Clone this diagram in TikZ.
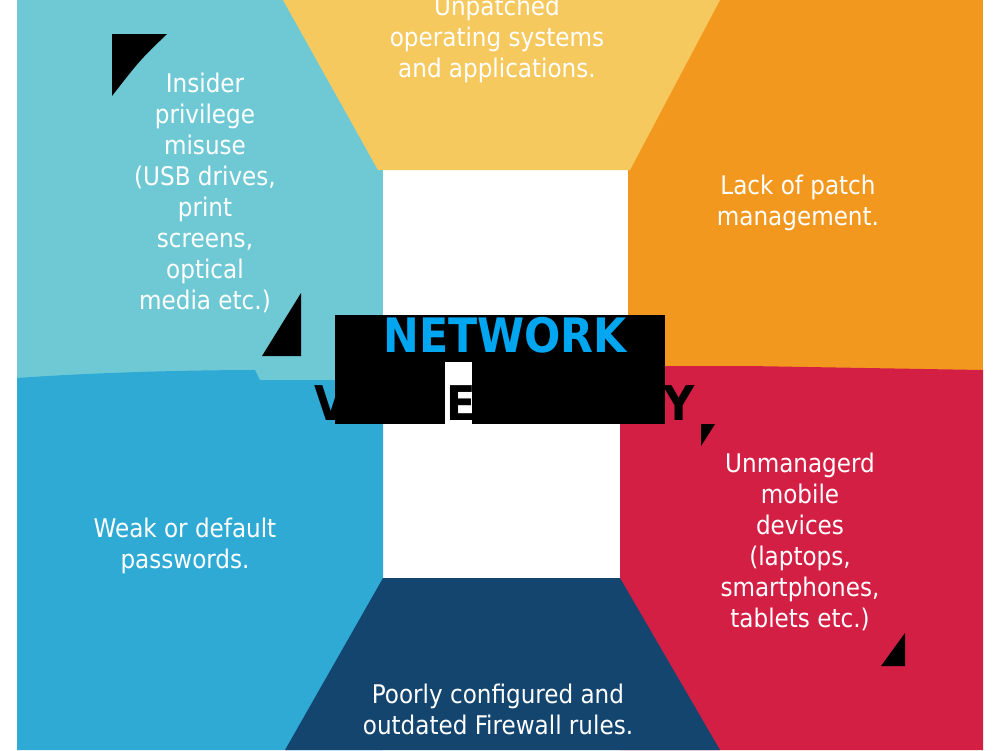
\documentclass[tikz,border=0pt]{standalone}
\usepackage{fontspec}
\setmainfont{DejaVu Sans Condensed}
\begin{document}
\begin{tikzpicture}[x=0.01cm,y=-0.01cm,
  lbl/.style={text=white,align=center,font=\fontsize{7.3}{8.8}\selectfont,inner sep=0pt},
  tri/.style={fill=black}]
\definecolor{cteal}{HTML}{6FC9D4}
\definecolor{cyel}{HTML}{F6C95F}
\definecolor{corg}{HTML}{F2981F}
\definecolor{cblue}{HTML}{2EAAD4}
\definecolor{cred}{HTML}{D41F45}
\definecolor{cnavy}{HTML}{13456F}
\definecolor{cnet}{HTML}{00A6F0}
\useasboundingbox (0,0) rectangle (1000,750);
\fill[white] (0,0) rectangle (1000,750);
\fill[cteal] (17,0) rectangle (383,382);
\fill[corg] (628,0) rectangle (983,372);
\fill[white] (383,170) rectangle (628,578);
\fill[cblue] (17,378) .. controls (100,372) and (200,370) .. (255,370) -- (260,380) -- (383,380) -- (383,750) -- (17,750) -- cycle;
\fill[cred] (620,366) -- (750,366) -- (983,370) -- (983,750) -- (620,750) -- cycle;
\fill[cyel] (283,0) -- (720,0) -- (630,170) -- (378,170) -- cycle;
\fill[cnavy] (383,578) -- (620,578) -- (720,750) -- (285,750) -- cycle;
\fill[tri] (112,34) -- (167,34) .. controls (140,60) .. (112,96) -- cycle;
\fill[tri] (301,293) -- (301,356) -- (262,356) -- cycle;
\fill[tri] (701,424) -- (715,424) -- (701,446) -- cycle;
\fill[tri] (905,633) -- (905,666) -- (881,666) -- cycle;
\fill[black] (335,315) rectangle (665,424);
\fill[white] (445,362) rectangle (472,424);
\node[font=\fontsize{13.5}{12}\bfseries\selectfont,text=cnet,inner sep=0pt] (net) at (505,335) {NETWORK};
\node[font=\fontsize{13.6}{12}\bfseries\selectfont,text=black,inner sep=0pt] (vul) at (505,403) {VULNERABILITY};
\node[lbl] (a) at (205,193) {Insider\\privilege\\misuse\\(USB drives,\\print\\screens,\\optical\\media etc.)};
\node[lbl] (b) at (497,39) {Unpatched\\operating systems\\and applications.};
\node[lbl] (c) at (798,203) {Lack of patch\\management.};
\node[lbl] (d) at (185,546) {Weak or default\\passwords.};
\node[lbl] (e) at (800,542) {Unmanagerd\\mobile\\devices\\(laptops,\\smartphones,\\tablets etc.)};
\node[lbl] (f) at (498,709) {Poorly configured and\\outdated Firewall rules.};
\end{tikzpicture}
\end{document}
